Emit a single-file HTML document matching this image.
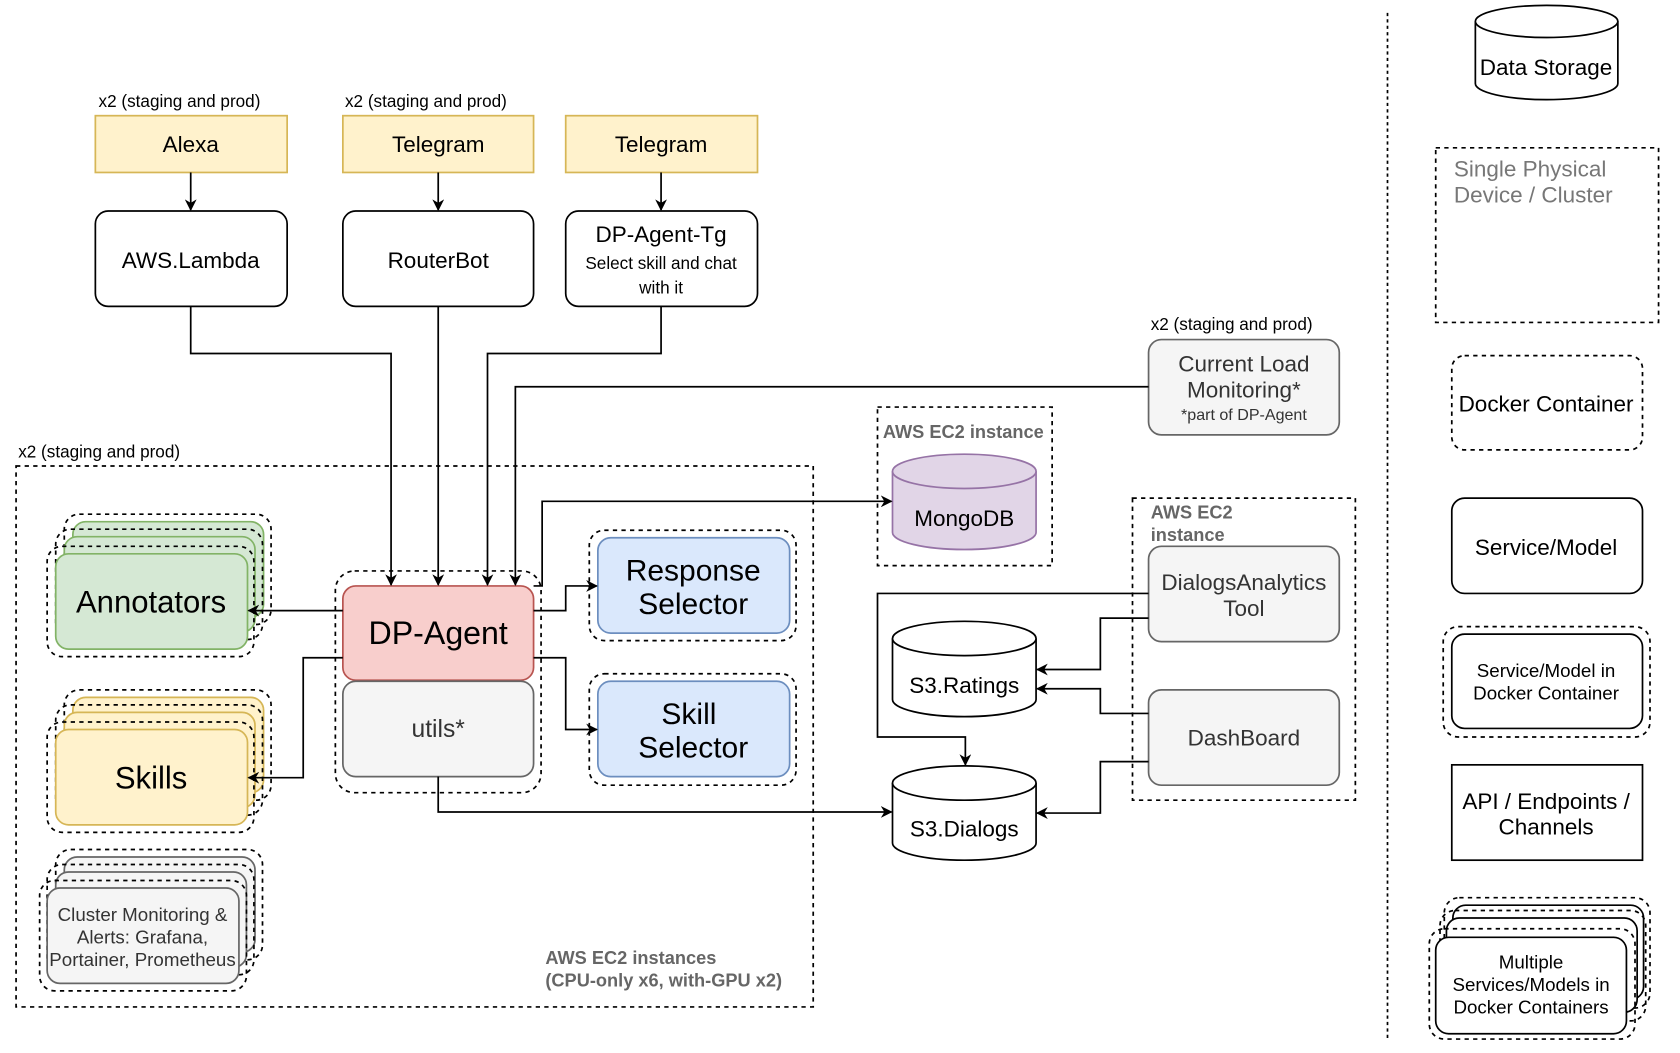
<!DOCTYPE html>
<html><head><meta charset="utf-8"><style>
html,body{margin:0;padding:0;background:#fff;}
svg{display:block;font-family:"Liberation Sans",Arial,sans-serif;}
</style></head><body>
<svg width="1680" height="1053" viewBox="0 0 1568 983" preserveAspectRatio="none" xmlns="http://www.w3.org/2000/svg">
<defs>
<marker id="a" viewBox="0 0 10 10" refX="9" refY="5" markerWidth="11" markerHeight="11" orient="auto" markerUnits="userSpaceOnUse"><path d="M0,0 L10,5 L0,10 L3,5 z" fill="#000"/></marker>
</defs>
<rect width="1568" height="983" fill="#fff"/>
<g fill="none" stroke="#000" stroke-width="1.6">
<line x1="1295" y1="12" x2="1295" y2="970" stroke-dasharray="3,3"/>
</g>
<g stroke="#000" stroke-width="1.6" fill="#fff">
<path d="M1377,20 L1377,78 A66.5,15 0 0 0 1510,78 L1510,20"/>
<ellipse cx="1443.5" cy="20" rx="66.5" ry="15"/>
<rect x="1340" y="138" width="208" height="163" fill="none" stroke-dasharray="4,4"/>
<rect x="1355" y="332" width="178" height="88" rx="12" fill="none" stroke-dasharray="4,4"/>
<rect x="1355" y="465" width="178" height="89" rx="12"/>
<rect x="1347" y="585" width="193" height="103" rx="14" fill="none" stroke-dasharray="4,4"/>
<rect x="1355" y="592" width="178" height="88" rx="12"/>
<rect x="1355" y="714" width="178" height="89"/>
<rect x="1348" y="838" width="192" height="103" rx="14" fill="none" stroke-dasharray="4,4"/>
<rect x="1356" y="845" width="178" height="88" rx="12"/>
<rect x="1344" y="850" width="192" height="103" rx="14" fill="none" stroke-dasharray="4,4"/>
<rect x="1350" y="857" width="178" height="88" rx="12"/>
<rect x="1334" y="867" width="192" height="103" rx="14" fill="none" stroke-dasharray="4,4"/>
<rect x="1340" y="875" width="178" height="90" rx="12"/>
</g>
<g font-size="21" text-anchor="middle" fill="#000">
<text x="1443" y="70">Data Storage</text>
<text x="1443" y="384">Docker Container</text>
<text x="1443" y="518">Service/Model</text>
<text x="1443" y="632" font-size="17.5">Service/Model in</text>
<text x="1443" y="653" font-size="17.5">Docker Container</text>
<text x="1443" y="755">API / Endpoints /</text>
<text x="1443" y="779">Channels</text>
<text x="1429" y="904" font-size="17.5">Multiple</text>
<text x="1429" y="925" font-size="17.5">Services/Models in</text>
<text x="1429" y="946" font-size="17.5">Docker Containers</text>
</g>
<text x="1357" y="165" font-size="21" fill="#777">Single Physical</text>
<text x="1357" y="189" font-size="21" fill="#777">Device / Cluster</text>

<g font-size="16" fill="#000">
<text x="92" y="100">x2 (staging and prod)</text>
<text x="322" y="100">x2 (staging and prod)</text>
<text x="1074" y="308">x2 (staging and prod)</text>
<text x="17" y="427">x2 (staging and prod)</text>
</g>
<g stroke="#d6b656" stroke-width="1.6" fill="#fff2cc">
<rect x="89" y="108" width="179" height="53"/>
<rect x="320" y="108" width="178" height="53"/>
<rect x="528" y="108" width="179" height="53"/>
</g>
<g stroke="#000" stroke-width="1.6" fill="#fff">
<rect x="89" y="197" width="179" height="89" rx="12"/>
<rect x="320" y="197" width="178" height="89" rx="12"/>
<rect x="528" y="197" width="179" height="89" rx="12"/>
</g>
<g font-size="21" text-anchor="middle" fill="#000">
<text x="178" y="142">Alexa</text>
<text x="409" y="142">Telegram</text>
<text x="617" y="142">Telegram</text>
<text x="178" y="250">AWS.Lambda</text>
<text x="409" y="250">RouterBot</text>
<text x="617" y="226">DP-Agent-Tg</text>
<text x="617" y="251" font-size="16">Select skill and chat</text>
<text x="617" y="274" font-size="16">with it</text>
</g>

<rect x="1072" y="317" width="178" height="89" rx="12" fill="#f5f5f5" stroke="#666" stroke-width="1.6"/>
<g text-anchor="middle" fill="#333">
<text x="1161" y="347" font-size="21">Current Load</text>
<text x="1161" y="371" font-size="21">Monitoring*</text>
<text x="1161" y="392" font-size="15">*part of DP-Agent</text>
</g>

<rect x="15" y="435" width="744" height="505" fill="none" stroke="#000" stroke-width="1.6" stroke-dasharray="4,4"/>
<text x="509" y="900" font-size="17" font-weight="bold" fill="#666">AWS EC2 instances</text>
<text x="509" y="921" font-size="17" font-weight="bold" fill="#666">(CPU-only x6, with-GPU x2)</text>

<g stroke-width="1.6">
<rect x="60" y="480" width="193" height="103" rx="14" fill="none" stroke="#000" stroke-dasharray="4,4"/>
<rect x="68" y="487" width="178" height="89" rx="12" fill="#d5e8d4" stroke="#82b366"/>
<rect x="52" y="494" width="193" height="103" rx="14" fill="none" stroke="#000" stroke-dasharray="4,4"/>
<rect x="60" y="501" width="178" height="89" rx="12" fill="#d5e8d4" stroke="#82b366"/>
<rect x="44" y="510" width="193" height="103" rx="14" fill="none" stroke="#000" stroke-dasharray="4,4"/>
<rect x="52" y="517" width="179" height="89" rx="12" fill="#d5e8d4" stroke="#82b366"/>
</g>
<text x="141" y="572" font-size="29" text-anchor="middle">Annotators</text>
<g stroke-width="1.6">
<rect x="60" y="644" width="193" height="103" rx="14" fill="none" stroke="#000" stroke-dasharray="4,4"/>
<rect x="68" y="651" width="178" height="89" rx="12" fill="#fff2cc" stroke="#d6b656"/>
<rect x="52" y="658" width="193" height="103" rx="14" fill="none" stroke="#000" stroke-dasharray="4,4"/>
<rect x="60" y="665" width="178" height="89" rx="12" fill="#fff2cc" stroke="#d6b656"/>
<rect x="44" y="674" width="193" height="103" rx="14" fill="none" stroke="#000" stroke-dasharray="4,4"/>
<rect x="52" y="681" width="179" height="89" rx="12" fill="#fff2cc" stroke="#d6b656"/>
</g>
<text x="141" y="736" font-size="29" text-anchor="middle">Skills</text>
<g stroke-width="1.6">
<rect x="52" y="793" width="193" height="103" rx="14" fill="none" stroke="#000" stroke-dasharray="4,4"/>
<rect x="60" y="800" width="178" height="89" rx="12" fill="#f5f5f5" stroke="#666"/>
<rect x="44" y="807" width="193" height="103" rx="14" fill="none" stroke="#000" stroke-dasharray="4,4"/>
<rect x="52" y="814" width="178" height="89" rx="12" fill="#f5f5f5" stroke="#666"/>
<rect x="37" y="822" width="193" height="103" rx="14" fill="none" stroke="#000" stroke-dasharray="4,4"/>
<rect x="44" y="829" width="179" height="89" rx="12" fill="#f5f5f5" stroke="#666"/>
</g>
<g font-size="17.5" text-anchor="middle" fill="#333">
<text x="133" y="860">Cluster Monitoring &amp;</text>
<text x="133" y="881">Alerts: Grafana,</text>
<text x="133" y="902">Portainer, Prometheus</text>
</g>

<rect x="313" y="533" width="192" height="207" rx="18" fill="none" stroke="#000" stroke-width="1.6" stroke-dasharray="4,4"/>
<rect x="320" y="547" width="178" height="88" rx="12" fill="#f8cecc" stroke="#b85450" stroke-width="1.6"/>
<rect x="320" y="636" width="178" height="89" rx="12" fill="#f5f5f5" stroke="#666" stroke-width="1.6"/>
<text x="409" y="601" font-size="30" text-anchor="middle">DP-Agent</text>
<text x="409" y="688" font-size="23" text-anchor="middle" fill="#333">utils*</text>

<rect x="550" y="495" width="193" height="103" rx="14" fill="none" stroke="#000" stroke-width="1.6" stroke-dasharray="4,4"/>
<rect x="558" y="502" width="179" height="89" rx="12" fill="#dae8fc" stroke="#6c8ebf" stroke-width="1.6"/>
<rect x="550" y="629" width="193" height="104" rx="14" fill="none" stroke="#000" stroke-width="1.6" stroke-dasharray="4,4"/>
<rect x="558" y="636" width="179" height="89" rx="12" fill="#dae8fc" stroke="#6c8ebf" stroke-width="1.6"/>
<g font-size="28" text-anchor="middle">
<text x="647" y="542">Response</text>
<text x="647" y="573">Selector</text>
<text x="643" y="676">Skill</text>
<text x="647" y="707">Selector</text>
</g>

<rect x="819" y="380" width="163" height="148" fill="none" stroke="#000" stroke-width="1.6" stroke-dasharray="4,4"/>
<text x="824" y="409" font-size="17" font-weight="bold" fill="#666">AWS EC2 instance</text>
<g stroke-width="1.6">
<path d="M833,440 L833,497 A67,16 0 0 0 967,497 L967,440" fill="#e1d5e7" stroke="#9673a6"/>
<ellipse cx="900" cy="440" rx="67" ry="16" fill="#e1d5e7" stroke="#9673a6"/>
<path d="M833,596 L833,653 A67,16 0 0 0 967,653 L967,596" fill="#fff" stroke="#000"/>
<ellipse cx="900" cy="596" rx="67" ry="16" fill="#fff" stroke="#000"/>
<path d="M833,731 L833,787 A67,16 0 0 0 967,787 L967,731" fill="#fff" stroke="#000"/>
<ellipse cx="900" cy="731" rx="67" ry="16" fill="#fff" stroke="#000"/>
</g>
<g font-size="21" text-anchor="middle">
<text x="900" y="491">MongoDB</text>
<text x="900" y="647">S3.Ratings</text>
<text x="900" y="781">S3.Dialogs</text>
</g>

<rect x="1057" y="465" width="208" height="282" fill="none" stroke="#000" stroke-width="1.6" stroke-dasharray="4,4"/>
<text x="1074" y="484" font-size="17" font-weight="bold" fill="#666">AWS EC2</text>
<text x="1074" y="505" font-size="17" font-weight="bold" fill="#666">instance</text>
<rect x="1072" y="510" width="178" height="89" rx="12" fill="#f5f5f5" stroke="#666" stroke-width="1.6"/>
<rect x="1072" y="644" width="178" height="89" rx="12" fill="#f5f5f5" stroke="#666" stroke-width="1.6"/>
<g font-size="21" text-anchor="middle" fill="#333">
<text x="1161" y="551">DialogsAnalytics</text>
<text x="1161" y="575">Tool</text>
<text x="1161" y="696">DashBoard</text>
</g>

<g fill="none" stroke="#000" stroke-width="1.6" marker-end="url(#a)">
<line x1="178" y1="161" x2="178" y2="196"/>
<line x1="409" y1="161" x2="409" y2="196"/>
<line x1="617" y1="161" x2="617" y2="196"/>
<polyline points="178,286 178,330 365,330 365,546"/>
<line x1="409" y1="286" x2="409" y2="546"/>
<polyline points="617,286 617,330 455,330 455,546"/>
<polyline points="1072,361 481,361 481,546"/>
<polyline points="498,547 506,547 506,468 832,468"/>
<line x1="320" y1="570" x2="232" y2="570"/>
<polyline points="320,614 283,614 283,726 232,726"/>
<polyline points="498,570 528,570 528,547 557,547"/>
<polyline points="498,614 528,614 528,681 557,681"/>
<polyline points="409,725 409,758 832,758"/>
<polyline points="1072,554 819,554 819,688 901,688 901,714"/>
<polyline points="1072,577 1027,577 1027,625 968,625"/>
<polyline points="1072,666 1027,666 1027,643 968,643"/>
<polyline points="1072,711 1027,711 1027,759 968,759"/>
</g>
</svg>
</body></html>
